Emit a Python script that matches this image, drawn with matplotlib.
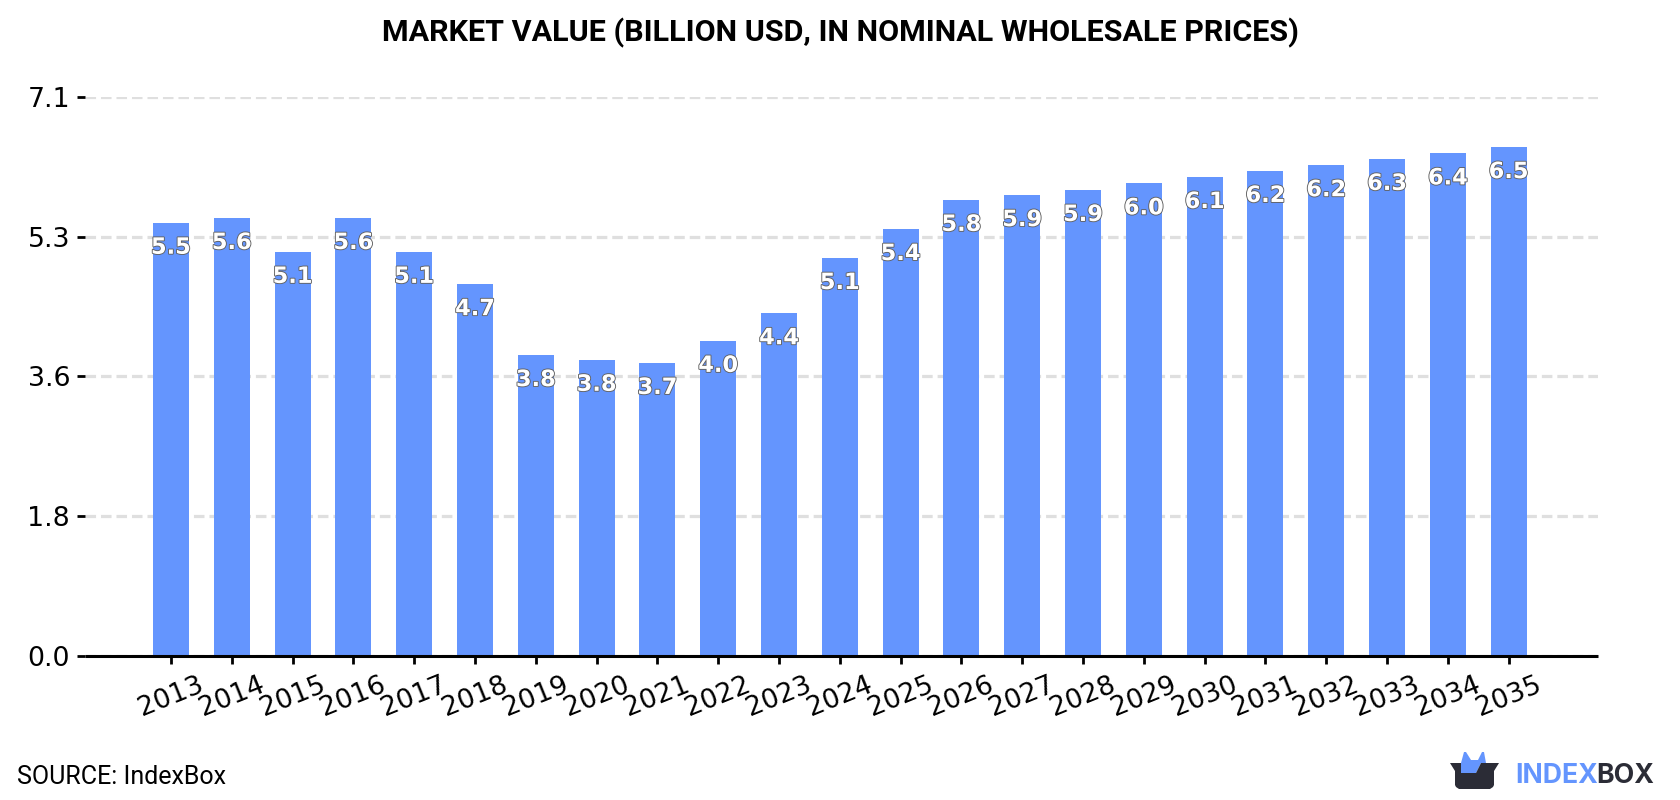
import matplotlib
matplotlib.use("Agg")
import matplotlib.pyplot as plt
import matplotlib.patheffects as pe
from matplotlib.patches import Polygon

years = [2013, 2014, 2015, 2016, 2017, 2018, 2019, 2020, 2021, 2022, 2023, 2024,
         2025, 2026, 2027, 2028, 2029, 2030, 2031, 2032, 2033, 2034, 2035]
values = [5.50, 5.56, 5.13, 5.56, 5.13, 4.72, 3.82, 3.76, 3.72, 4.00, 4.351, 5.052,
          5.42, 5.79, 5.851, 5.916, 6.00, 6.08, 6.157, 6.23, 6.31, 6.38, 6.46]
y_ticks = [0.0, 1.775, 3.55, 5.325, 7.1]
y_tick_labels = ["0.0", "1.8", "3.6", "5.3", "7.1"]

BLUE = "#6495fe"
DARK = "#2b2c36"
W, H = 1680, 800

fig = plt.figure(figsize=(W / 100, H / 100), dpi=100, facecolor="white")
ax = fig.add_axes([85 / W, 1 - 656 / H, (1598 - 85) / W, (656 - 96.7) / H])

positions = list(range(len(years)))
ax.bar(positions, values, width=0.59, color=BLUE, zorder=3)
ax.set_xlim(-1.414, 23.47)
ax.set_ylim(0, 7.1)

ax.set_yticks(y_ticks)
ax.set_yticklabels(y_tick_labels)
ax.set_xticks(positions)
ax.set_xticklabels([str(y) for y in years], rotation=22, ha="center")
ax.tick_params(axis="y", length=5.8, width=2, labelsize=19.3, pad=5, color="black")
ax.tick_params(axis="x", length=5.5, width=2, labelsize=19.3, pad=6, color="black")

ax.grid(axis="y", color="#dfdfdf", linewidth=2.3, linestyle=(0, (3.3, 1.55)), zorder=1)
ax.set_axisbelow(True)
for side in ("top", "right", "left"):
    ax.spines[side].set_visible(False)
ax.spines["bottom"].set_linewidth(2.2)
ax.spines["bottom"].set_zorder(5)
ax.spines["bottom"].set_capstyle("butt")

# Value labels sit just under the top of each bar
for x, v in zip(positions, values):
    ax.annotate(f"{v:.1f}", (x, v), xytext=(0, -18), textcoords="offset points",
                ha="center", va="center", fontsize=16.2, fontweight="bold",
                color="white", zorder=6,
                path_effects=[pe.withStroke(linewidth=1.3, foreground="#606060")])

fig.text(840 / W, 1 - 33 / H, "MARKET VALUE (BILLION USD, IN NOMINAL WHOLESALE PRICES)",
         ha="center", va="center", fontsize=21.95, fontweight="bold",
         family="Roboto", color="black")
fig.text(17 / W, 1 - 784 / H, "SOURCE: IndexBox", ha="left", va="baseline",
         fontsize=18.0, family="Roboto", color="black")

# Brand mark: a box with two ears poking out, drawn in pixel coordinates
logo = fig.add_axes([0, 0, 1, 1], facecolor="none")
logo.set_xlim(0, W)
logo.set_ylim(H, 0)
logo.axis("off")
logo.add_patch(Polygon([(1461, 773), (1461, 763), (1464, 752), (1466, 752), (1471, 760),
                        (1478, 760), (1482, 752), (1484, 752), (1486, 763), (1481, 763),
                        (1476, 773)],
                       closed=True, facecolor=BLUE, edgecolor="none"))
logo.add_patch(Polygon([(1450, 763), (1461, 763), (1461, 773), (1476, 773), (1481, 763),
                        (1499, 763), (1494, 771), (1494, 785), (1493, 787), (1490, 789),
                        (1459, 789), (1456, 787), (1455, 785), (1455, 771)],
                       closed=True, facecolor=DARK, edgecolor="none"))
logo.text(1515, 783, "INDEX", ha="left", va="baseline", fontsize=19.2,
          fontweight="bold", family="Inter", color=BLUE)
logo.text(1596, 783, "BOX", ha="left", va="baseline", fontsize=19.2,
          fontweight="bold", family="Inter", color=DARK)

fig.savefig("out.png", dpi=100, facecolor="white")
